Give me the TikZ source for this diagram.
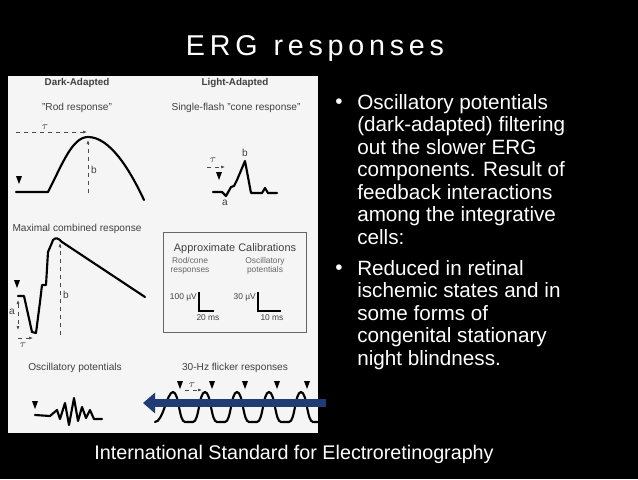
\documentclass[tikz,border=0pt]{standalone}
\usepackage{fontspec}
\setmainfont{Liberation Sans}
\usetikzlibrary{arrows.meta}
\definecolor{navy}{HTML}{1F3C74}
\begin{document}
\begin{tikzpicture}[x=0.75pt,y=-0.75pt,
  lbl/.style={font=\fontsize{7.6}{8}\selectfont,text=black!75,inner sep=0},
  sm/.style={lbl,font=\fontsize{6.3}{7}\selectfont},
  wave/.style={line width=1.6pt,line join=round,line cap=round},
  dsh/.style={dashed,black!70,line width=0.5pt},
  bul/.style={text=white,font=\fontsize{15.5}{16.9}\selectfont,align=left,anchor=north west,inner sep=0}]
\fill[black] (0,0) rectangle (638,479);
\useasboundingbox (0,0) rectangle (638,479);
\fill[black!4] (8,76) rectangle (318,433);
\node[text=white,font=\fontsize{21.5}{26}\selectfont] (title) at (315,48) {E\,R\,G\ \ r\,e\,s\,p\,o\,n\,s\,e\,s};
\node[lbl,font=\bfseries\fontsize{7.4}{8}\selectfont] (da) at (77,83) {Dark-Adapted};
\node[lbl,font=\bfseries\fontsize{7.4}{8}\selectfont] (la) at (235,83) {Light-Adapted};
\node[lbl] (rr) at (77,108) {"Rod response"};
\node[lbl] (cr) at (236,108) {Single-flash "cone response"};
% rod
\draw[wave] (16,192) -- (48,192) .. controls (62,165) and (72,137) .. (88,137) .. controls (110,137) and (130,170) .. (144,200);
\draw[dsh,-{Latex[length=3pt]}] (16,132) -- (87,132);
\node[lbl] (t1) at (45,127) {$\tau$};
\draw[dsh,-{Latex[length=3pt]}] (88,193) -- (88,140);
\node[lbl] (b1) at (94,170) {b};
\fill (16,176) -- (22,176) -- (19,184) -- cycle;
% cone
\draw[wave] (213,192) -- (222,192) -- (226,196) -- (231,187) -- (234,186) -- (237,180) -- (245,161) -- (251,193) -- (262,193) -- (265,188) -- (268,193) -- (277,193);
\node[lbl] (b2) at (245,153) {b};
\node[lbl] (a2) at (225,203) {a};
\draw[dsh,-{Latex[length=3pt]}] (207,167) -- (225,167);
\node[lbl] (t2) at (213,160) {$\tau$};
\fill (216,172) -- (222,172) -- (219,180) -- cycle;
% maximal
\node[lbl] (mc) at (77,229) {Maximal combined response};
\draw[wave] (18,296) -- (24,296) -- (32,332) -- (36,333) -- (40,302) -- (42,285) -- (46,285) -- (48,252) -- (51,245) -- (53,240) .. controls (56,237) and (58,238) .. (62,242) -- (145,297);
\draw[dsh,-{Latex[length=3pt]}] (60,335) -- (60,243);
\node[lbl] (b3) at (66,295) {b};
\draw[dsh,{Latex[length=3pt]}-{Latex[length=3pt]}] (18,300) -- (18,330);
\node[lbl] (a3) at (12,312) {a};
\draw[dsh,-{Latex[length=3pt]}] (18,338) -- (33,338);
\node[lbl] (t3) at (23,345) {$\tau$};
\fill (14,280) -- (20,280) -- (17,288) -- cycle;
% calibrations
\draw[black!60,line width=0.6pt] (163,232) rectangle (306,332);
\node[lbl,font=\fontsize{8.2}{9}\selectfont] (ac) at (235,249) {Approximate Calibrations};
\node[sm,align=center,text=black!60] (rc) at (190,266) {Rod/cone\\responses};
\node[sm,align=center,text=black!60] (op) at (265,266) {Oscillatory\\potentials};
\draw[line width=1.3pt] (199,292) -- (199,311) -- (214,311);
\draw[line width=1.3pt] (258,292) -- (258,311) -- (281,311);
\node[sm,anchor=east] (u1) at (197,297) {100 µV};
\node[sm,anchor=east] (u2) at (256,297) {30 µV};
\node[sm] (m1) at (208,318) {20 ms};
\node[sm] (m2) at (272,318) {10 ms};
% OP
\node[lbl] (opl) at (75,368) {Oscillatory potentials};
\fill (32,401) -- (38,401) -- (35,409) -- cycle;
\draw[wave] (35,415) -- (50,416) -- (57,410) -- (60,419) -- (65,403) -- (69,425) -- (74,398) -- (78,421) -- (82,407) -- (86,418) -- (90,410) -- (94,419) -- (102,419);
% flicker
\node[lbl] (fl) at (235,368) {30-Hz flicker responses};
\draw[wave] (155,422) .. controls (163,422) and (167,392) .. (173,392);
\foreach \k in {0,...,4} {
  \pgfmathsetmacro{\p}{173+32*\k}
  \draw[wave] (\p,392) .. controls (\p+6,392) and (\p+6,422) .. (\p+12,422) -- (\p+20,422) .. controls (\p+26,422) and (\p+26,392) .. (\p+32,392);
}
\foreach \xx in {180,212,245,277,307} \fill (\xx-3,381) -- (\xx+3,381) -- (\xx,389) -- cycle;
\draw[dsh,-{Latex[length=3pt]}] (185,390) -- (202,390);
\node[lbl] (t4) at (192,385) {$\tau$};
% arrow
\coordinate (as) at (326,403);
\coordinate (ae) at (143,403);
\draw[navy,line width=6pt,-{Triangle[length=9pt,width=15pt]}] (as) -- (ae);
% bullets
\node[text=white,font=\fontsize{15.5}{16}\selectfont] (d1) at (339,104) {•};
\node[bul] (bt1) at (357,94) {Oscillatory potentials\\(dark-adapted) filtering\\out the slower ERG\\components. Result of\\feedback interactions\\among the integrative\\cells:};
\node[text=white,font=\fontsize{15.5}{16}\selectfont] (d2) at (339,270) {•};
\node[bul] (bt2) at (357,260) {Reduced in retinal\\ischemic states and in\\some forms of\\congenital stationary\\night blindness.};
\node[text=white,font=\fontsize{14.8}{15}\selectfont] (cap) at (294,454) {International Standard for Electroretinography};
\end{tikzpicture}
\end{document}
